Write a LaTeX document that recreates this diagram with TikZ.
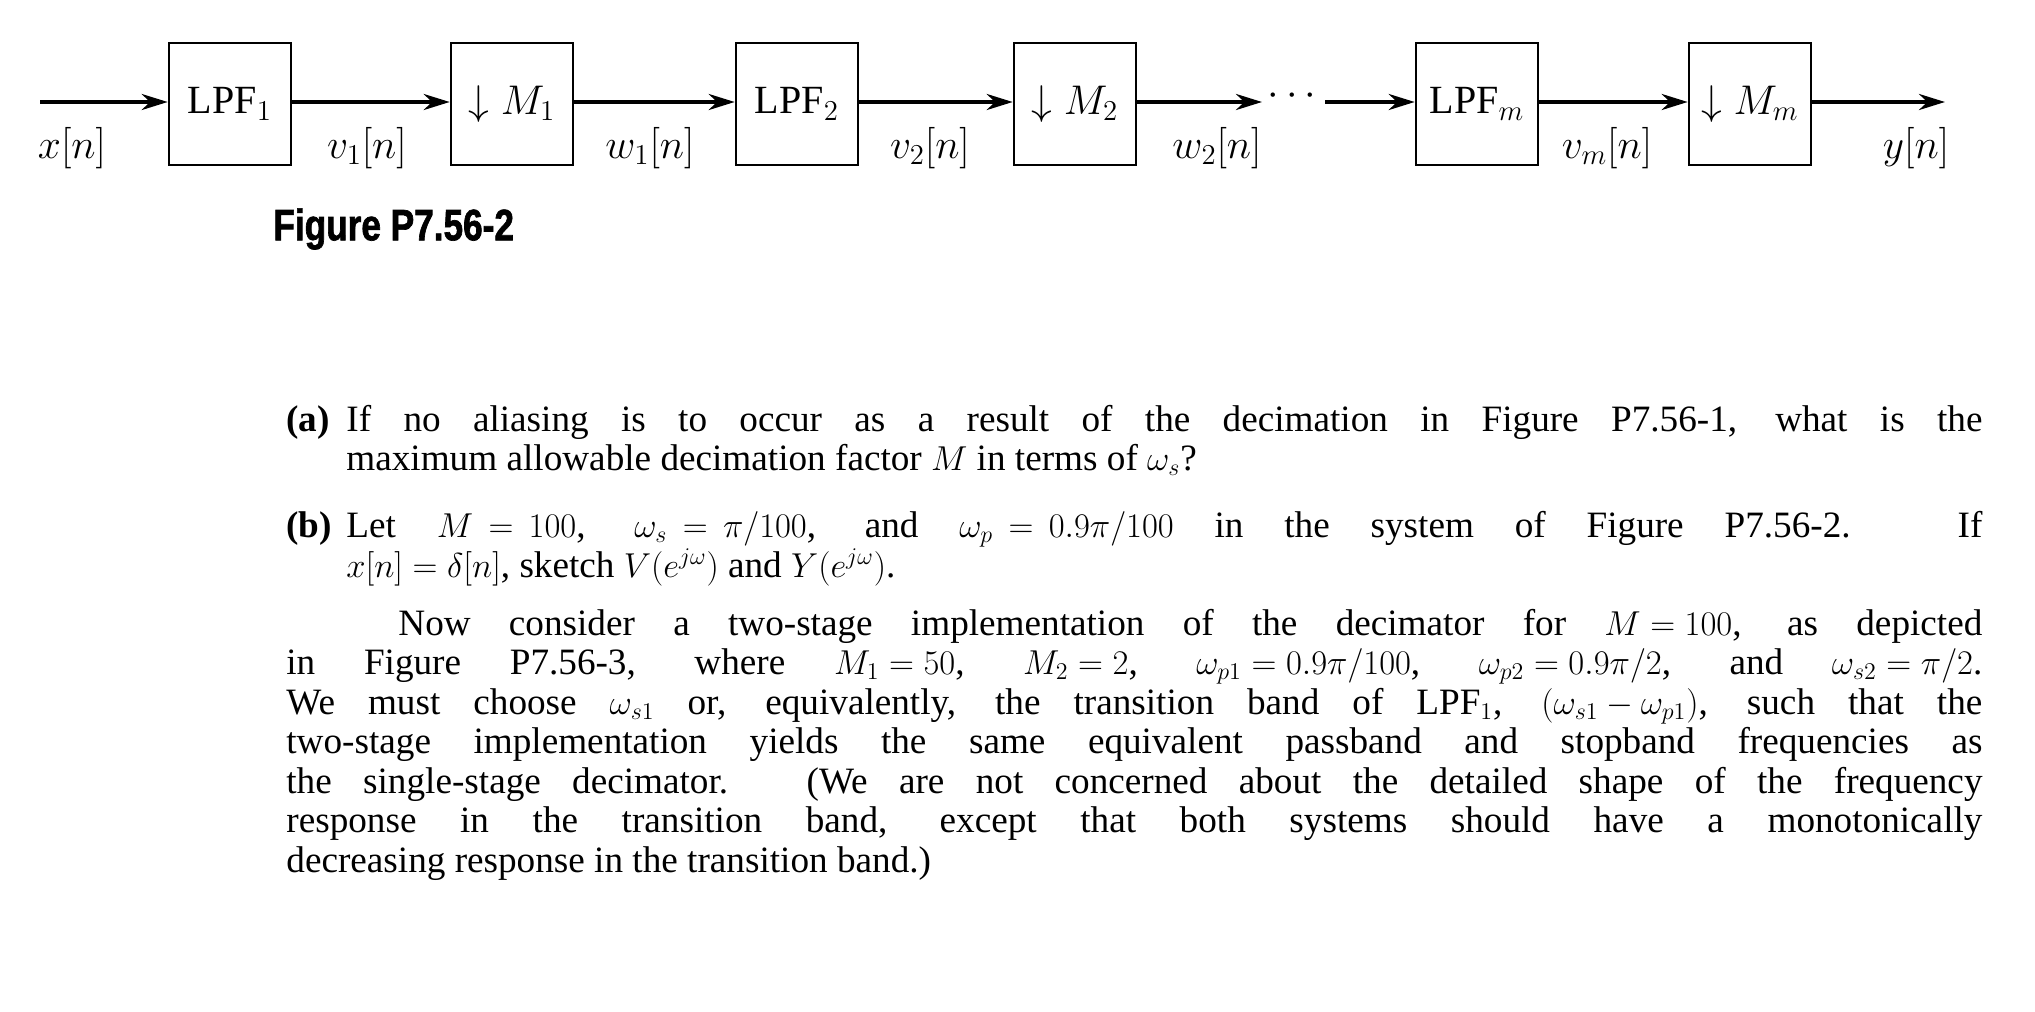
\documentclass[tikz,border=0pt]{standalone}
\usepackage{fontspec}
\setmainfont{Liberation Serif}
\newfontfamily\figfont[FakeStretch=0.8,FakeBold=1.5]{Liberation Sans}
\usetikzlibrary{arrows.meta}
\newcommand\mm[1]{\mbox{$#1$}}
\begin{document}
\begin{tikzpicture}[x=0.5pt,y=-0.5pt,
  blk/.style={draw,line width=1.3pt,minimum width=61pt,minimum height=61pt,inner sep=0pt,font=\fontsize{20}{24}\selectfont},
  sig/.style={line width=2pt,-{Stealth[length=13pt,width=8pt]}},
  lab/.style={font=\fontsize{20}{24}\selectfont,anchor=base},
  txt/.style={anchor=base west,inner sep=0pt,font=\fontsize{18.6}{22}\selectfont}]
\useasboundingbox (0,0) rectangle (2035,1012);
\node[blk] (l1) at (230,104) {LPF$_1$};
\node[blk] (m1) at (512,104) {$\downarrow M_1$};
\node[blk] (l2) at (797,104) {LPF$_2$};
\node[blk] (m2) at (1075,104) {$\downarrow M_2$};
\node[blk] (lm) at (1477,104) {LPF$_m$};
\node[blk] (mm) at (1750,104) {$\downarrow M_m$};
\coordinate (in) at (40,102);
\coordinate (d1) at (1262,102);
\coordinate (d2) at (1325,102);
\coordinate (out) at (1945,102);
\node[font=\fontsize{20}{24}\selectfont] (dots) at (1292,96) {$\cdots$};
\draw[sig] (in) -- (l1.west|-in);
\draw[sig] (l1.east|-in) -- (m1.west|-in);
\draw[sig] (m1.east|-in) -- (l2.west|-in);
\draw[sig] (l2.east|-in) -- (m2.west|-in);
\draw[sig] (m2.east|-in) -- (d1);
\draw[sig] (d2) -- (lm.west|-in);
\draw[sig] (lm.east|-in) -- (mm.west|-in);
\draw[sig] (mm.east|-in) -- (out);
\node[lab] (lx) at (72,158) {$x[n]$};
\node[lab] (lv1) at (367,158) {$v_1[n]$};
\node[lab] (lw1) at (650,158) {$w_1[n]$};
\node[lab] (lv2) at (930,158) {$v_2[n]$};
\node[lab] (lw2) at (1217,158) {$w_2[n]$};
\node[lab] (lvm) at (1607,158) {$v_m[n]$};
\node[lab] (ly) at (1916,158) {$y[n]$};
\node[anchor=west,inner sep=0pt,font=\figfont\bfseries\fontsize{22}{26}\selectfont] (fig) at (273,229) {Figure P7.56-2};
\node[txt] (a) at (286,431) {\textbf{(a)}};
\node[txt] (a1) at (346,431) {\makebox[818pt][s]{If no aliasing is to occur as a result of the decimation in Figure P7.56-1, what is the}};
\node[txt] (a2) at (346,470) {maximum allowable decimation factor $M$ in terms of $\omega_s$?};
\node[txt] (b) at (286,537) {\textbf{(b)}};
\node[txt] (b1) at (346,537) {\makebox[818pt][s]{Let \mm{M\,=\,100}, \mm{\omega_s\,=\,\pi/100}, and \mm{\omega_p\,=\,0.9\pi/100} in the system of Figure P7.56-2. If}};
\node[txt] (b2) at (346,577) {$x[n]=\delta[n]$, sketch $V(e^{j\omega})$ and $Y(e^{j\omega})$.};
\node[txt] (p1) at (398,635) {\makebox[792pt][s]{Now consider a two-stage implementation of the decimator for \mm{M=100}, as depicted}};
\node[txt] (p2) at (286,674.5) {\makebox[848pt][s]{in Figure P7.56-3, where \mm{M_1=50}, \mm{M_2=2}, \mm{\omega_{p1}=0.9\pi/100}, \mm{\omega_{p2}=0.9\pi/2}, and \mm{\omega_{s2}=\pi/2}.}};
\node[txt] (p3) at (286,714) {\makebox[848pt][s]{We must choose $\omega_{s1}$ or, equivalently, the transition band of LPF$_1$, \mm{(\omega_{s1}-\omega_{p1})}, such that the}};
\node[txt] (p4) at (286,753.5) {\makebox[848pt][s]{two-stage implementation yields the same equivalent passband and stopband frequencies as}};
\node[txt] (p5) at (286,793) {\makebox[848pt][s]{the single-stage decimator. (We are not concerned about the detailed shape of the frequency}};
\node[txt] (p6) at (286,832.5) {\makebox[848pt][s]{response in the transition band, except that both systems should have a monotonically}};
\node[txt] (p7) at (286,872) {decreasing response in the transition band.)};
\end{tikzpicture}
\end{document}
